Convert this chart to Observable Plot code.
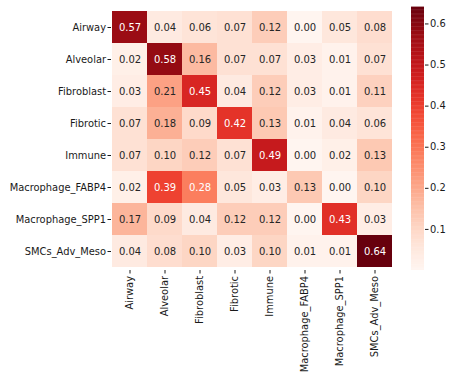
<!DOCTYPE html>
<html><head><meta charset="utf-8">
<script src="https://cdn.jsdelivr.net/npm/d3@7"></script>
<script src="https://cdn.jsdelivr.net/npm/@observablehq/plot@0.6"></script>
<style>
body{margin:0;background:#fff;}
#wrap{position:relative;width:474px;height:381px;}
#wrap svg{position:absolute;top:0;}
</style>
</head><body>
<div id="wrap"></div>
<script>
const labels = ["Airway","Alveolar","Fibroblast","Fibrotic","Immune","Macrophage_FABP4","Macrophage_SPP1","SMCs_Adv_Meso"];
const rowAirway      = [0.57,0.04,0.06,0.07,0.12,0.00,0.05,0.08];
const rowAlveolar    = [0.02,0.58,0.16,0.07,0.07,0.03,0.01,0.07];
const rowFibroblast  = [0.03,0.21,0.45,0.04,0.12,0.03,0.01,0.11];
const rowFibrotic    = [0.07,0.18,0.09,0.42,0.13,0.01,0.04,0.06];
const rowImmune      = [0.07,0.10,0.12,0.07,0.49,0.00,0.02,0.13];
const rowMacFABP4    = [0.02,0.39,0.28,0.05,0.03,0.13,0.00,0.10];
const rowMacSPP1     = [0.17,0.09,0.04,0.12,0.12,0.00,0.43,0.03];
const rowSMCs        = [0.04,0.08,0.10,0.03,0.10,0.01,0.01,0.64];
const colorbarTicks  = [0.1,0.2,0.3,0.4,0.5,0.6];

const rows = [rowAirway,rowAlveolar,rowFibroblast,rowFibrotic,rowImmune,rowMacFABP4,rowMacSPP1,rowSMCs];
const data = [];
rows.forEach((r,i)=>r.forEach((v,j)=>data.push({row:labels[i],col:labels[j],v})));
const vmin = d3.min(data,d=>d.v), vmax = d3.max(data,d=>d.v);
const font = {fontFamily:"DejaVu Sans, sans-serif", fontSize:"9.9px", color:"#1a1a1a", background:"transparent"};

const main = Plot.plot({
  width: 400, height: 381,
  marginLeft: 111, marginRight: 7, marginTop: 7, marginBottom: 111,
  style: font,
  x: {domain: labels, padding: 0, label: null},
  y: {domain: labels, padding: 0, label: null},
  color: {type: "linear", scheme: "reds", domain: [vmin, vmax]},
  marks: [
    Plot.cell(data, {x:"col", y:"row", fill:"v", inset:0}),
    Plot.text(data, {x:"col", y:"row", text:d=>d.v.toFixed(2), fill:d=>d.v>=0.25?"#ffffff":"#262626", fontSize:10}),
    Plot.axisX({tickRotate:-90, tickSize:3.5, tickPadding:2, label:null}),
    Plot.axisY({tickSize:3.5, tickPadding:2, label:null})
  ]
});
main.style.left = "0px";

const ramp = d3.range(0, 200).map(i => ({y1: vmin + (vmax-vmin)*i/200, y2: vmin + (vmax-vmin)*(i+1)/200}));
const bar = Plot.plot({
  width: 74, height: 381,
  marginLeft: 11, marginRight: 50, marginTop: 7, marginBottom: 111,
  style: font,
  x: {axis: null, domain:[0,1]},
  y: {domain: [vmin, vmax], axis: null},
  color: {type:"linear", scheme:"reds", domain:[vmin, vmax]},
  marks: [
    Plot.rect(ramp, {x1:0, x2:1, y1:"y1", y2:d=>d.y2+0.001, fill:"y1"}),
    Plot.axisY(colorbarTicks, {anchor:"right", tickSize:3.5, tickPadding:2, label:null, tickFormat:d3.format(".1f")})
  ]
});
bar.style.left = "400px";

const wrap = document.getElementById("wrap");
wrap.appendChild(main);
wrap.appendChild(bar);
</script>
</body></html>
